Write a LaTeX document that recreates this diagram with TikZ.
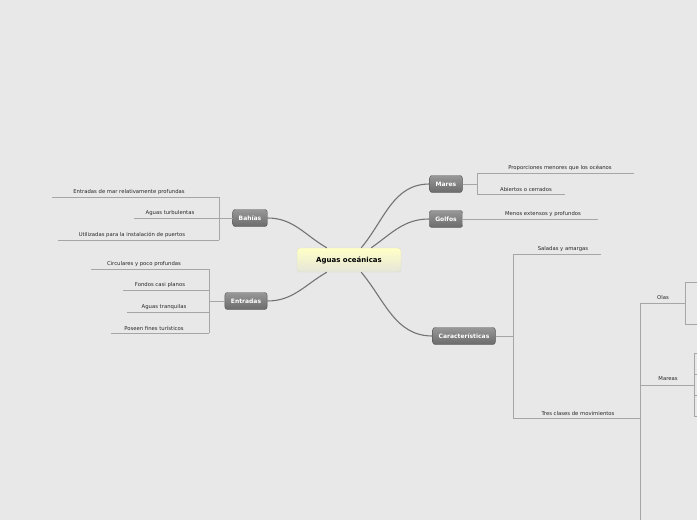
\documentclass[tikz,border=0pt]{standalone}
\usepackage{fontspec}
\setmainfont{DejaVu Sans}
\begin{document}
\begin{tikzpicture}[x=1pt,y=-1pt,
  topic/.style={rounded corners=2.5pt,top color=#1!70!white,bottom color=#1,draw=#1!80!black,line width=0.4pt,text=white,font=\fontsize{6}{7}\selectfont\bfseries,minimum height=17pt,inner xsep=6pt},
  topic/.default={gray!70!black},
  leaf/.style={font=\fontsize{5.3}{6}\selectfont,text=black!85,inner sep=1pt,anchor=south},
  br/.style={draw=black!35,line width=0.6pt},
  main/.style={draw=black!55,line width=1.1pt}]
\fill[black!9] (0,0) rectangle (697,520);
\useasboundingbox (0,0) rectangle (697,520);
\colorlet{tc}{black!58}
\node[rounded corners=3pt,top color=yellow!22!white,bottom color=yellow!35!black!15,draw=yellow!40!black!25,font=\fontsize{7}{8}\selectfont\bfseries,minimum width=104pt,minimum height=24pt] (c) at (349,260) {Aguas oceánicas};
\node[topic=tc] (mar) at (446,184) {Mares};
\node[topic=tc] (gol) at (446,219) {Golfos};
\node[topic=tc] (car) at (464,336) {Características};
\node[topic=tc] (bah) at (250,218) {Bahías};
\node[topic=tc] (ent) at (246,301) {Entradas};
\draw[main] (c.north east)++(-40,0) to[out=50,in=180] (mar.west);
\draw[main] (c.north east)++(-30,0) to[out=35,in=180] (gol.west);
\draw[main] (c.south east)++(-40,0) to[out=-50,in=180] (car.west);
\draw[main] (c.north west)++(30,0) to[out=150,in=0] (bah.east);
\draw[main] (c.south west)++(30,0) to[out=-150,in=0] (ent.east);
% Mares
\coordinate (m1) at (634,173); \coordinate (m2) at (565,194);
\draw[br] (mar.east) -- (477,184) (477,173) -- (477,194) (477,173) -- (m1) (477,194) -- (m2);
\node[leaf] at (560,172) {Proporciones menores que los océanos};
\node[leaf] at (526,193) {Abiertos o cerrados};
% Golfos
\coordinate (g1) at (598,219);
\draw[br] (gol.east) -- (g1);
\node[leaf] at (543,218) {Menos extensos y profundos};
% Caracteristicas
\draw[br] (car.east) -- (513,336) (513,254) -- (513,418) (513,254) -- (601,254) (513,418) -- (640,418);
\node[leaf] at (563,253) {Saladas y amargas};
\node[leaf] at (578,417) {Tres clases de movimientos};
\draw[br] (640,303) -- (640,520) (640,303) -- (685,303) (685,282) -- (685,324) (685,282) -- (697,282) (685,324) -- (697,324);
\node[leaf] at (663,301) {Olas};
\draw[br] (640,385) -- (694,385) (694,353) -- (694,416);
\foreach \y in {353,374,395,416} \draw[br] (694,\y) -- (697,\y);
\node[leaf] at (668,382) {Mareas};
% Bahias
\draw[br] (bah.west) -- (219,218) (219,197) -- (219,240) (219,197) -- (52,197) (219,218) -- (134,218) (219,240) -- (58,240);
\node[leaf] at (129,196) {Entradas de mar relativamente profundas};
\node[leaf] at (170,217) {Aguas turbulentas};
\node[leaf] at (132,239) {Utilizadas para la instalación de puertos};
% Entradas
\draw[br] (ent.west) -- (209,301) (209,269) -- (209,333) (209,269) -- (91,269) (209,290) -- (123,290) (209,312) -- (127,312) (209,333) -- (111,333);
\node[leaf] at (144,268) {Circulares y poco profundas};
\node[leaf] at (160,289) {Fondos casi planos};
\node[leaf] at (164,311) {Aguas tranquilas};
\node[leaf] at (154,332) {Poseen fines turísticos};
\end{tikzpicture}
\end{document}
